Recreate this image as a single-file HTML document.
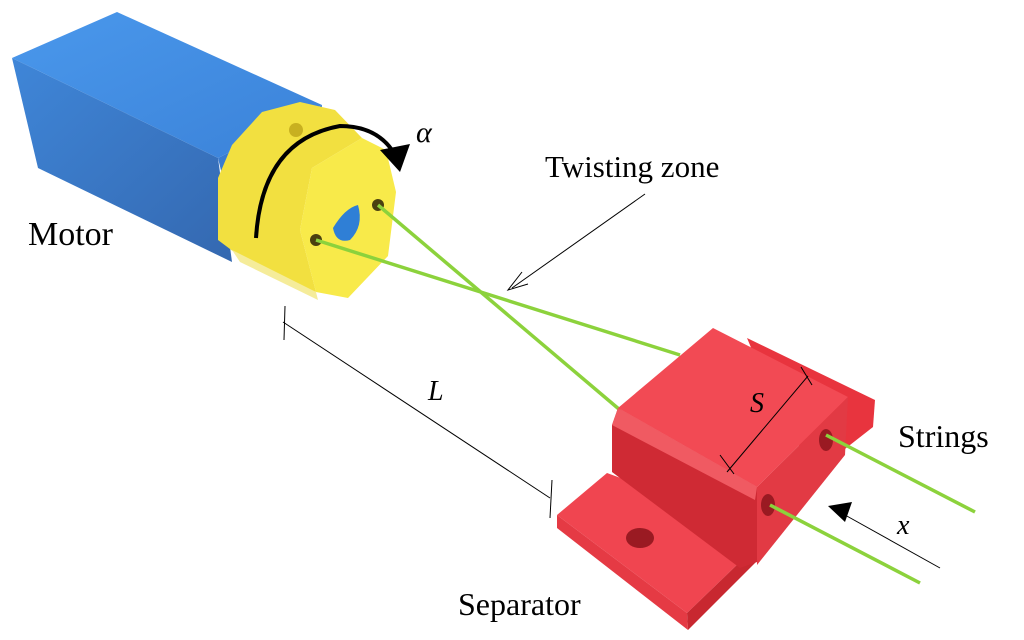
<!DOCTYPE html>
<html><head><style>body{margin:0;background:#fff}svg{display:block}</style></head><body>
<svg width="1024" height="640" viewBox="0 0 1024 640" xmlns="http://www.w3.org/2000/svg" font-family="Liberation Serif, serif">
<defs>
<linearGradient id="bt" x1="0" y1="0" x2="1" y2="1"><stop offset="0" stop-color="#4a98ec"/><stop offset="1" stop-color="#3b82d8"/></linearGradient>
<linearGradient id="bs" x1="0" y1="0" x2="1" y2="1"><stop offset="0" stop-color="#3f86d8"/><stop offset="1" stop-color="#3468b0"/></linearGradient>
</defs>
<!-- Motor -->
<polygon points="12,58 117,12 322,105 218,158" fill="url(#bt)"/>
<polygon points="12,58 218,158 232,262 38,168" fill="url(#bs)"/>
<polygon points="218,158 322,105 320,140 240,250" fill="#3a7cd0"/>
<!-- yellow collar -->
<polygon points="218,178 232,145 262,112 300,102 335,110 362,138 312,168 300,230 316,292 285,280 250,266 234,252 218,240" fill="#f2e040"/>
<polygon points="312,168 362,138 386,150 396,192 388,256 348,298 316,292 300,230" fill="#f8ea4a"/>
<polygon points="232,250 316,292 318,300 240,262" fill="#f5ec9a"/>
<circle cx="296" cy="130" r="7" fill="#c8b020"/>
<path d="M333,228 Q345,208 358,205 Q364,226 350,240 Q336,244 333,228Z" fill="#2f7fd6"/>
<circle cx="378" cy="205" r="6" fill="#4a4010"/>
<circle cx="316" cy="240" r="6" fill="#4a4010"/>
<!-- alpha arrow -->
<path d="M256,238 Q262,140 340,126 Q375,126 392,150" fill="none" stroke="#000" stroke-width="4"/>
<polygon points="380,150 410,144 400,172" fill="#000"/>
<text x="416" y="142" font-size="30" font-style="italic">α</text>
<!-- strings front part -->
<line x1="378" y1="205" x2="620" y2="410" stroke="#8cd23c" stroke-width="3.5"/>
<line x1="316" y1="240" x2="680" y2="355" stroke="#8cd23c" stroke-width="3.5"/>
<!-- separator -->
<polygon points="747,338 875,400 873,427 827,463 790,440" fill="#e8343e"/>
<polygon points="557,515 607,473 770,533 687,613" fill="#f04550"/>
<polygon points="557,515 687,613 688,630 557,528" fill="#e53a44"/>
<polygon points="687,613 770,533 770,548 688,630" fill="#c82830"/>
<polygon points="612,425 618,408 757,487 757,562 740,568 612,472" fill="#cf2a34"/>
<polygon points="612,425 618,408 757,487 755,500" fill="#f05a62"/>
<polygon points="618,408 713,328 848,397 757,487" fill="#f24a54"/>
<polygon points="757,487 848,397 845,455 757,565" fill="#e23a44"/>
<ellipse cx="640" cy="538" rx="14" ry="10" fill="#9a1a22"/>
<ellipse cx="768" cy="505" rx="7" ry="11" fill="#9a1a22"/>
<ellipse cx="826" cy="440" rx="7" ry="11" fill="#9a1a22"/>
<line x1="770" y1="505" x2="920" y2="583" stroke="#8cd23c" stroke-width="3.5"/>
<line x1="826" y1="435" x2="975" y2="512" stroke="#8cd23c" stroke-width="3.5"/>
<!-- annotations -->
<g stroke="#000" stroke-width="1" fill="none">
<line x1="283" y1="322" x2="550" y2="498"/>
<line x1="285" y1="306" x2="284" y2="340"/>
<line x1="552" y1="480" x2="550" y2="518"/>
<line x1="645" y1="194" x2="512" y2="288"/>
<polyline points="522,272 508,290 528,284"/>
<line x1="727" y1="472" x2="808" y2="376"/>
<line x1="720" y1="455" x2="734" y2="474"/>
<line x1="801" y1="367" x2="812" y2="385"/>
<line x1="940" y1="568" x2="845" y2="515"/>
</g>
<polygon points="828,506 852,502 845,522" fill="#000"/>
<text x="545" y="177" font-size="31">Twisting zone</text>
<text x="28" y="245" font-size="34">Motor</text>
<text x="898" y="447" font-size="32">Strings</text>
<text x="458" y="615" font-size="32">Separator</text>
<text x="428" y="400" font-size="28" font-style="italic">L</text>
<text x="750" y="412" font-size="28" font-style="italic">S</text>
<text x="897" y="534" font-size="28" font-style="italic">x</text>
</svg>
</body></html>
